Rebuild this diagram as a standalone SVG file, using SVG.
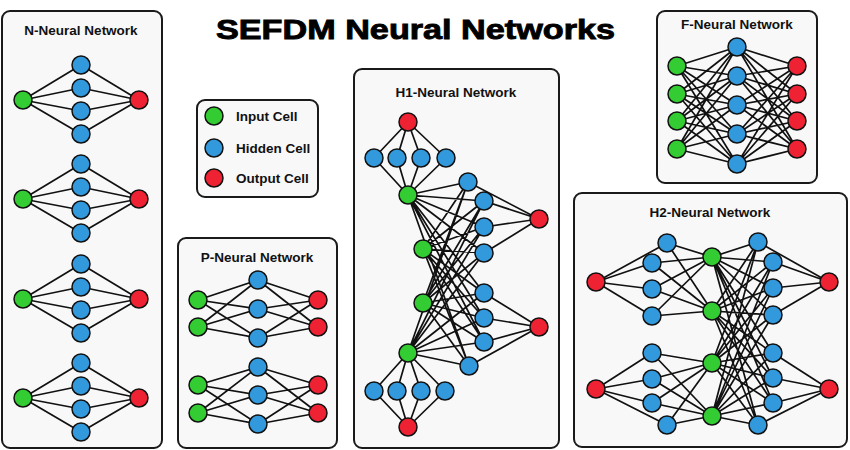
<svg xmlns="http://www.w3.org/2000/svg" width="850" height="450" viewBox="0 0 850 450">
<style>
.panel{fill:#f8f8f8;stroke:#1a1a1a;stroke-width:2}
.t{font-family:"Liberation Sans",Arial,sans-serif;font-weight:bold;font-size:13.5px;fill:#111;text-anchor:middle}
.lt{font-family:"Liberation Sans",Arial,sans-serif;font-weight:bold;font-size:13.5px;fill:#111}
.c{fill:none;stroke:#111;stroke-width:1.7}
.g{fill:#33cc33;stroke:#111;stroke-width:1.5}
.b{fill:#3399dd;stroke:#111;stroke-width:1.5}
.r{fill:#ee2233;stroke:#111;stroke-width:1.5}
</style>
<rect width="850" height="450" fill="#ffffff"/>
<text x="216" y="39" font-family="'Liberation Sans',Arial,sans-serif" font-weight="bold" font-size="28" fill="#000" stroke="#000" stroke-width="0.9" textLength="399" lengthAdjust="spacingAndGlyphs">SEFDM Neural Networks</text>
<g id="panels">
<g id="panel-n"><rect class="panel" x="2" y="11" width="160" height="437" rx="8"/><text class="t" x="81" y="35">N-Neural Network</text></g>
<g id="legend"><rect class="panel" x="197" y="100" width="121" height="97" rx="8"/>
<circle class="g" cx="214" cy="116" r="9"/><text class="lt" x="236" y="121">Input Cell</text>
<circle class="b" cx="214" cy="148" r="9"/><text class="lt" x="236" y="153">Hidden Cell</text>
<circle class="r" cx="214" cy="178" r="9"/><text class="lt" x="236" y="183">Output Cell</text></g>
<g id="panel-p"><rect class="panel" x="178" y="238" width="159" height="210" rx="8"/><text class="t" x="257" y="262">P-Neural Network</text></g>
<g id="panel-h1"><rect class="panel" x="354" y="69" width="205" height="379" rx="8"/><text class="t" x="456" y="97">H1-Neural Network</text></g>
<g id="panel-f"><rect class="panel" x="657" y="11" width="160" height="172" rx="8"/><text class="t" x="737" y="29">F-Neural Network</text></g>
<g id="panel-h2"><rect class="panel" x="574" y="193" width="273" height="254" rx="8"/><text class="t" x="710" y="217">H2-Neural Network</text></g>
</g>
<g id="connectors">
<path class="c" d="M23 100L81 65M23 100L81 88M23 100L81 111M23 100L81 134M81 65L139 100M81 88L139 100M81 111L139 100M81 134L139 100
M23 199L81 164M23 199L81 187M23 199L81 210M23 199L81 233M81 164L139 199M81 187L139 199M81 210L139 199M81 233L139 199
M23 299L81 264M23 299L81 287M23 299L81 310M23 299L81 333M81 264L139 299M81 287L139 299M81 310L139 299M81 333L139 299
M23 398L81 363M23 398L81 386M23 398L81 409M23 398L81 432M81 363L139 398M81 386L139 398M81 409L139 398M81 432L139 398"/>
<path class="c" d="M198 300L258 280M198 300L258 309M198 300L258 338M198 327L258 280M198 327L258 309M198 327L258 338M258 280L318 300M258 309L318 300M258 338L318 300M258 280L318 327M258 309L318 327M258 338L318 327
M198 385L258 367M198 385L258 395M198 385L258 424M198 413L258 367M198 413L258 395M198 413L258 424M258 367L318 385M258 395L318 385M258 424L318 385M258 367L318 413M258 395L318 413M258 424L318 413"/>
<path class="c" d="M677 66L737 47M677 66L737 76M677 66L737 105M677 66L737 134M677 66L737 164
M677 94L737 47M677 94L737 76M677 94L737 105M677 94L737 134M677 94L737 164
M677 121L737 47M677 121L737 76M677 121L737 105M677 121L737 134M677 121L737 164
M677 149L737 47M677 149L737 76M677 149L737 105M677 149L737 134M677 149L737 164
M797 66L737 47M797 66L737 76M797 66L737 105M797 66L737 134M797 66L737 164
M797 94L737 47M797 94L737 76M797 94L737 105M797 94L737 134M797 94L737 164
M797 121L737 47M797 121L737 76M797 121L737 105M797 121L737 134M797 121L737 164
M797 149L737 47M797 149L737 76M797 149L737 105M797 149L737 134M797 149L737 164"/>
<path class="c" d="M408 122L374 158M408 122L397 158M408 122L421 158M408 122L446 158M374 158L408 195M397 158L408 195M421 158L408 195M446 158L408 195
M408 427L374 391M408 427L397 391M408 427L421 391M408 427L445 391M374 391L408 353M397 391L408 353M421 391L408 353M445 391L408 353
M408 195L468 182M408 195L484 201M408 195L484 227M408 195L484 253M408 195L484 293M408 195L484 318M408 195L484 342M408 195L469 366
M423 249L468 182M423 249L484 201M423 249L484 227M423 249L484 253M423 249L484 293M423 249L484 318M423 249L484 342M423 249L469 366
M423 303L468 182M423 303L484 201M423 303L484 227M423 303L484 253M423 303L484 293M423 303L484 318M423 303L484 342M423 303L469 366
M408 353L468 182M408 353L484 201M408 353L484 227M408 353L484 253M408 353L484 293M408 353L484 318M408 353L484 342M408 353L469 366
M468 182L539 219M484 201L539 219M484 227L539 219M484 253L539 219M484 293L539 327M484 318L539 327M484 342L539 327M469 366L539 327"/>
<path class="c" d="M596 282L667 243M596 282L652 263M596 282L652 289M596 282L652 316
M667 243L712 257M652 263L712 257M652 289L712 257M652 316L712 257M667 243L712 311M652 263L712 311M652 289L712 311M652 316L712 311
M596 389L652 353M596 389L652 379M596 389L652 403M596 389L667 425
M652 353L712 363M652 379L712 363M652 403L712 363M667 425L712 363M652 353L712 416M652 379L712 416M652 403L712 416M667 425L712 416
M712 257L758 242M712 257L773 262M712 257L773 288M712 257L773 315M712 257L773 353M712 257L773 378M712 257L773 403M712 257L758 425
M712 311L758 242M712 311L773 262M712 311L773 288M712 311L773 315M712 311L773 353M712 311L773 378M712 311L773 403M712 311L758 425
M712 363L758 242M712 363L773 262M712 363L773 288M712 363L773 315M712 363L773 353M712 363L773 378M712 363L773 403M712 363L758 425
M712 416L758 242M712 416L773 262M712 416L773 288M712 416L773 315M712 416L773 353M712 416L773 378M712 416L773 403M712 416L758 425
M758 242L829 282M773 262L829 282M773 288L829 282M773 315L829 282M773 353L829 389M773 378L829 389M773 403L829 389M758 425L829 389"/>
</g>
<g id="nodes">
<g id="n-net">
<circle class="g" cx="23" cy="100" r="9"/><circle class="r" cx="139" cy="100" r="9"/>
<circle class="b" cx="81" cy="65" r="9"/><circle class="b" cx="81" cy="88" r="9"/><circle class="b" cx="81" cy="111" r="9"/><circle class="b" cx="81" cy="134" r="9"/>
<circle class="g" cx="23" cy="199" r="9"/><circle class="r" cx="139" cy="199" r="9"/>
<circle class="b" cx="81" cy="164" r="9"/><circle class="b" cx="81" cy="187" r="9"/><circle class="b" cx="81" cy="210" r="9"/><circle class="b" cx="81" cy="233" r="9"/>
<circle class="g" cx="23" cy="299" r="9"/><circle class="r" cx="139" cy="299" r="9"/>
<circle class="b" cx="81" cy="264" r="9"/><circle class="b" cx="81" cy="287" r="9"/><circle class="b" cx="81" cy="310" r="9"/><circle class="b" cx="81" cy="333" r="9"/>
<circle class="g" cx="23" cy="398" r="9"/><circle class="r" cx="139" cy="398" r="9"/>
<circle class="b" cx="81" cy="363" r="9"/><circle class="b" cx="81" cy="386" r="9"/><circle class="b" cx="81" cy="409" r="9"/><circle class="b" cx="81" cy="432" r="9"/>
</g>
<g id="p-net">
<circle class="g" cx="198" cy="300" r="9"/><circle class="g" cx="198" cy="327" r="9"/>
<circle class="b" cx="258" cy="280" r="9"/><circle class="b" cx="258" cy="309" r="9"/><circle class="b" cx="258" cy="338" r="9"/>
<circle class="r" cx="318" cy="300" r="9"/><circle class="r" cx="318" cy="327" r="9"/>
<circle class="g" cx="198" cy="385" r="9"/><circle class="g" cx="198" cy="413" r="9"/>
<circle class="b" cx="258" cy="367" r="9"/><circle class="b" cx="258" cy="395" r="9"/><circle class="b" cx="258" cy="424" r="9"/>
<circle class="r" cx="318" cy="385" r="9"/><circle class="r" cx="318" cy="413" r="9"/>
</g>
<g id="f-net">
<circle class="g" cx="677" cy="66" r="9"/><circle class="g" cx="677" cy="94" r="9"/><circle class="g" cx="677" cy="121" r="9"/><circle class="g" cx="677" cy="149" r="9"/>
<circle class="b" cx="737" cy="47" r="9"/><circle class="b" cx="737" cy="76" r="9"/><circle class="b" cx="737" cy="105" r="9"/><circle class="b" cx="737" cy="134" r="9"/><circle class="b" cx="737" cy="164" r="9"/>
<circle class="r" cx="797" cy="66" r="9"/><circle class="r" cx="797" cy="94" r="9"/><circle class="r" cx="797" cy="121" r="9"/><circle class="r" cx="797" cy="149" r="9"/>
</g>
<g id="h1-net">
<circle class="r" cx="408" cy="122" r="9"/>
<circle class="b" cx="374" cy="158" r="9"/><circle class="b" cx="397" cy="158" r="9"/><circle class="b" cx="421" cy="158" r="9"/><circle class="b" cx="446" cy="158" r="9"/>
<circle class="g" cx="408" cy="195" r="9"/><circle class="g" cx="423" cy="249" r="9"/><circle class="g" cx="423" cy="303" r="9"/><circle class="g" cx="408" cy="353" r="9"/>
<circle class="b" cx="468" cy="182" r="9"/><circle class="b" cx="484" cy="201" r="9"/><circle class="b" cx="484" cy="227" r="9"/><circle class="b" cx="484" cy="253" r="9"/>
<circle class="b" cx="484" cy="293" r="9"/><circle class="b" cx="484" cy="318" r="9"/><circle class="b" cx="484" cy="342" r="9"/><circle class="b" cx="469" cy="366" r="9"/>
<circle class="r" cx="539" cy="219" r="9"/><circle class="r" cx="539" cy="327" r="9"/>
<circle class="b" cx="374" cy="391" r="9"/><circle class="b" cx="397" cy="391" r="9"/><circle class="b" cx="421" cy="391" r="9"/><circle class="b" cx="445" cy="391" r="9"/>
<circle class="r" cx="408" cy="427" r="9"/>
</g>
<g id="h2-net">
<circle class="r" cx="596" cy="282" r="9"/><circle class="r" cx="596" cy="389" r="9"/>
<circle class="b" cx="667" cy="243" r="9"/><circle class="b" cx="652" cy="263" r="9"/><circle class="b" cx="652" cy="289" r="9"/><circle class="b" cx="652" cy="316" r="9"/>
<circle class="b" cx="652" cy="353" r="9"/><circle class="b" cx="652" cy="379" r="9"/><circle class="b" cx="652" cy="403" r="9"/><circle class="b" cx="667" cy="425" r="9"/>
<circle class="g" cx="712" cy="257" r="9"/><circle class="g" cx="712" cy="311" r="9"/><circle class="g" cx="712" cy="363" r="9"/><circle class="g" cx="712" cy="416" r="9"/>
<circle class="b" cx="758" cy="242" r="9"/><circle class="b" cx="773" cy="262" r="9"/><circle class="b" cx="773" cy="288" r="9"/><circle class="b" cx="773" cy="315" r="9"/>
<circle class="b" cx="773" cy="353" r="9"/><circle class="b" cx="773" cy="378" r="9"/><circle class="b" cx="773" cy="403" r="9"/><circle class="b" cx="758" cy="425" r="9"/>
<circle class="r" cx="829" cy="282" r="9"/><circle class="r" cx="829" cy="389" r="9"/>
</g>
</g>
</svg>
